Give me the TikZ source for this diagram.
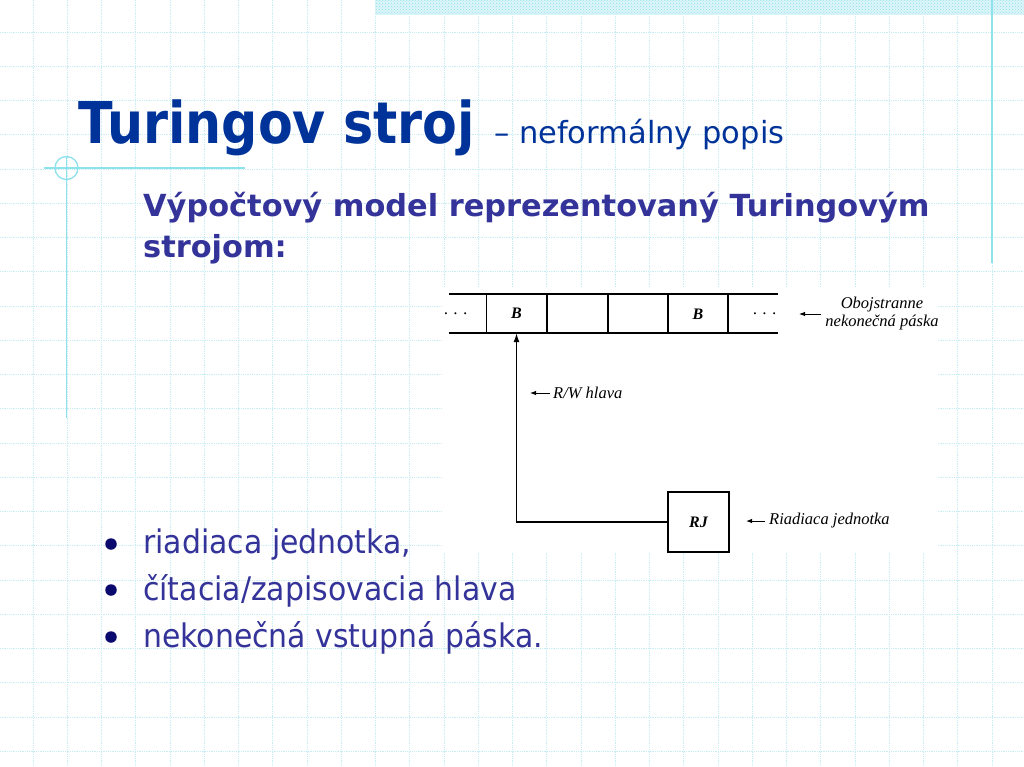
\documentclass[tikz,border=0pt]{standalone}
\usepackage{fontspec}
\setmainfont{DejaVu Sans}
\newfontfamily\diagfont{Liberation Serif}
\usetikzlibrary{arrows.meta,patterns}
\definecolor{titleblue}{HTML}{003399}
\definecolor{subblue}{HTML}{333399}
\definecolor{bulletnavy}{HTML}{0A0A6E}
\definecolor{gridc}{HTML}{C8ECF3}
\definecolor{decoc}{HTML}{8EE2EC}
\definecolor{stripec}{HTML}{DDF5F8}
\tikzset{
  gridline/.style={gridc, densely dotted, line width=0.8pt},
  deco/.style={decoc, line width=1.3pt},
  tapeline/.style={black, line width=1.3pt},
  lbl/.style={font=\diagfont\itshape\fontsize{16.5}{18}\selectfont, inner sep=0pt},
  celltxt/.style={font=\diagfont\bfseries\itshape\fontsize{16}{18}\selectfont, inner sep=0pt},
  lblarrow/.style={black, line width=1pt, -{Latex[length=6pt,width=4.5pt]}},
  headarrow/.style={black, line width=1.1pt, -{Latex[length=9pt,width=6pt]}},
  bullet/.style={circle, fill=bulletnavy, minimum size=11.5pt, inner sep=0pt},
  bulltxt/.style={anchor=base west, inner sep=0pt, text=subblue},
}
\begin{document}
\begin{tikzpicture}[x=1pt,y=-1pt]
\useasboundingbox (0,0) rectangle (1024,767);
\fill[white] (0,0) rectangle (1024,767);
% grid
\foreach \i in {0,...,28} \draw[gridline] ({33+\i*34.25},0) -- ({33+\i*34.25},767);
\foreach \j in {0,...,21} \draw[gridline] (0,{32+\j*34.25}) -- (1024,{32+\j*34.25});
% top stripe
\fill[stripec] (375,0) rectangle (1024,15);
\fill[pattern=crosshatch dots, pattern color=decoc] (375,0) rectangle (1024,15);
% decorations
\draw[deco] (992,0) -- (992,263);
\draw[deco] (44,168) -- (245,168);
\draw[deco] (66.5,157) -- (66.5,418);
\draw[deco] (66.5,168) circle (11.5);
% title
\node[anchor=base west, inner sep=0pt, text=titleblue] (title) at (78,144)
  {\scalebox{0.88}[1]{\fontsize{57.6}{60}\selectfont\bfseries Turingov stroj}};
\node[anchor=base west, inner sep=0pt, text=titleblue] (subtitle) at (494,144)
  {\fontsize{30.5}{33}\selectfont – neformálny popis};
% intro
\node[anchor=base west, inner sep=0pt, text=subblue] (intro1) at (143,217)
  {\fontsize{30.4}{34}\selectfont\bfseries Výpočtový model reprezentovaný Turingovým};
\node[anchor=base west, inner sep=0pt, text=subblue] (intro2) at (143,257)
  {\fontsize{30.4}{34}\selectfont\bfseries strojom:};
% diagram backdrop
\fill[white] (443,287) rectangle (938,553);
% tape
\draw[tapeline] (449,294) -- (778,294);
\draw[tapeline] (449,333) -- (778,333);
\foreach \x in {486.5,547,608,668,728} \draw[tapeline] (\x,294) -- (\x,333);
\node[lbl] (dotsL) at (456,314) {. . .};
\node[celltxt, minimum width=61pt, minimum height=39pt] (cellB) at (516.5,313.5) {B};
\node[celltxt] (cellB2) at (698,314) {B};
\node[lbl] (dotsR) at (765,314) {. . .};
% tape label
\node[lbl, align=center] (tapelbl) at (882,314) {Obojstranne\\[0pt]nekonečná páska};
\coordinate (tapearrS) at (821,314);
\coordinate (tapearrE) at (799,314);
\draw[lblarrow] (tapearrS) -- (tapearrE);
% control unit
\node[draw, line width=1.2pt, minimum width=61pt, minimum height=60pt, inner sep=0pt,
      font=\diagfont\bfseries\itshape\fontsize{16}{18}\selectfont] (rj) at (698.5,522) {RJ};
\draw[headarrow] (rj.west) -| (cellB.south);
% head label
\node[lbl, anchor=west] (rwlbl) at (553,393) {R/W hlava};
\coordinate (rwarrS) at (550,393);
\coordinate (rwarrE) at (530,393);
\draw[lblarrow] (rwarrS) -- (rwarrE);
% rj label
\node[lbl, anchor=west] (rjlbl) at (769,521) {Riadiaca jednotka};
\coordinate (rjarrS) at (765,521);
\coordinate (rjarrE) at (746,521);
\draw[lblarrow] (rjarrS) -- (rjarrE);
% bullets
\node[bullet] (b1) at (111,544) {};
\node[bullet] (b2) at (111,590) {};
\node[bullet] (b3) at (111,637) {};
\node[bulltxt] (t1) at (143,553) {\scalebox{0.92}[1]{\fontsize{32.5}{36}\selectfont riadiaca jednotka,}};
\node[bulltxt] (t2) at (143,600) {\scalebox{0.92}[1]{\fontsize{32.5}{36}\selectfont čítacia/zapisovacia hlava}};
\node[bulltxt] (t3) at (143,647) {\scalebox{0.92}[1]{\fontsize{32.5}{36}\selectfont nekonečná vstupná páska.}};
\end{tikzpicture}
\end{document}
